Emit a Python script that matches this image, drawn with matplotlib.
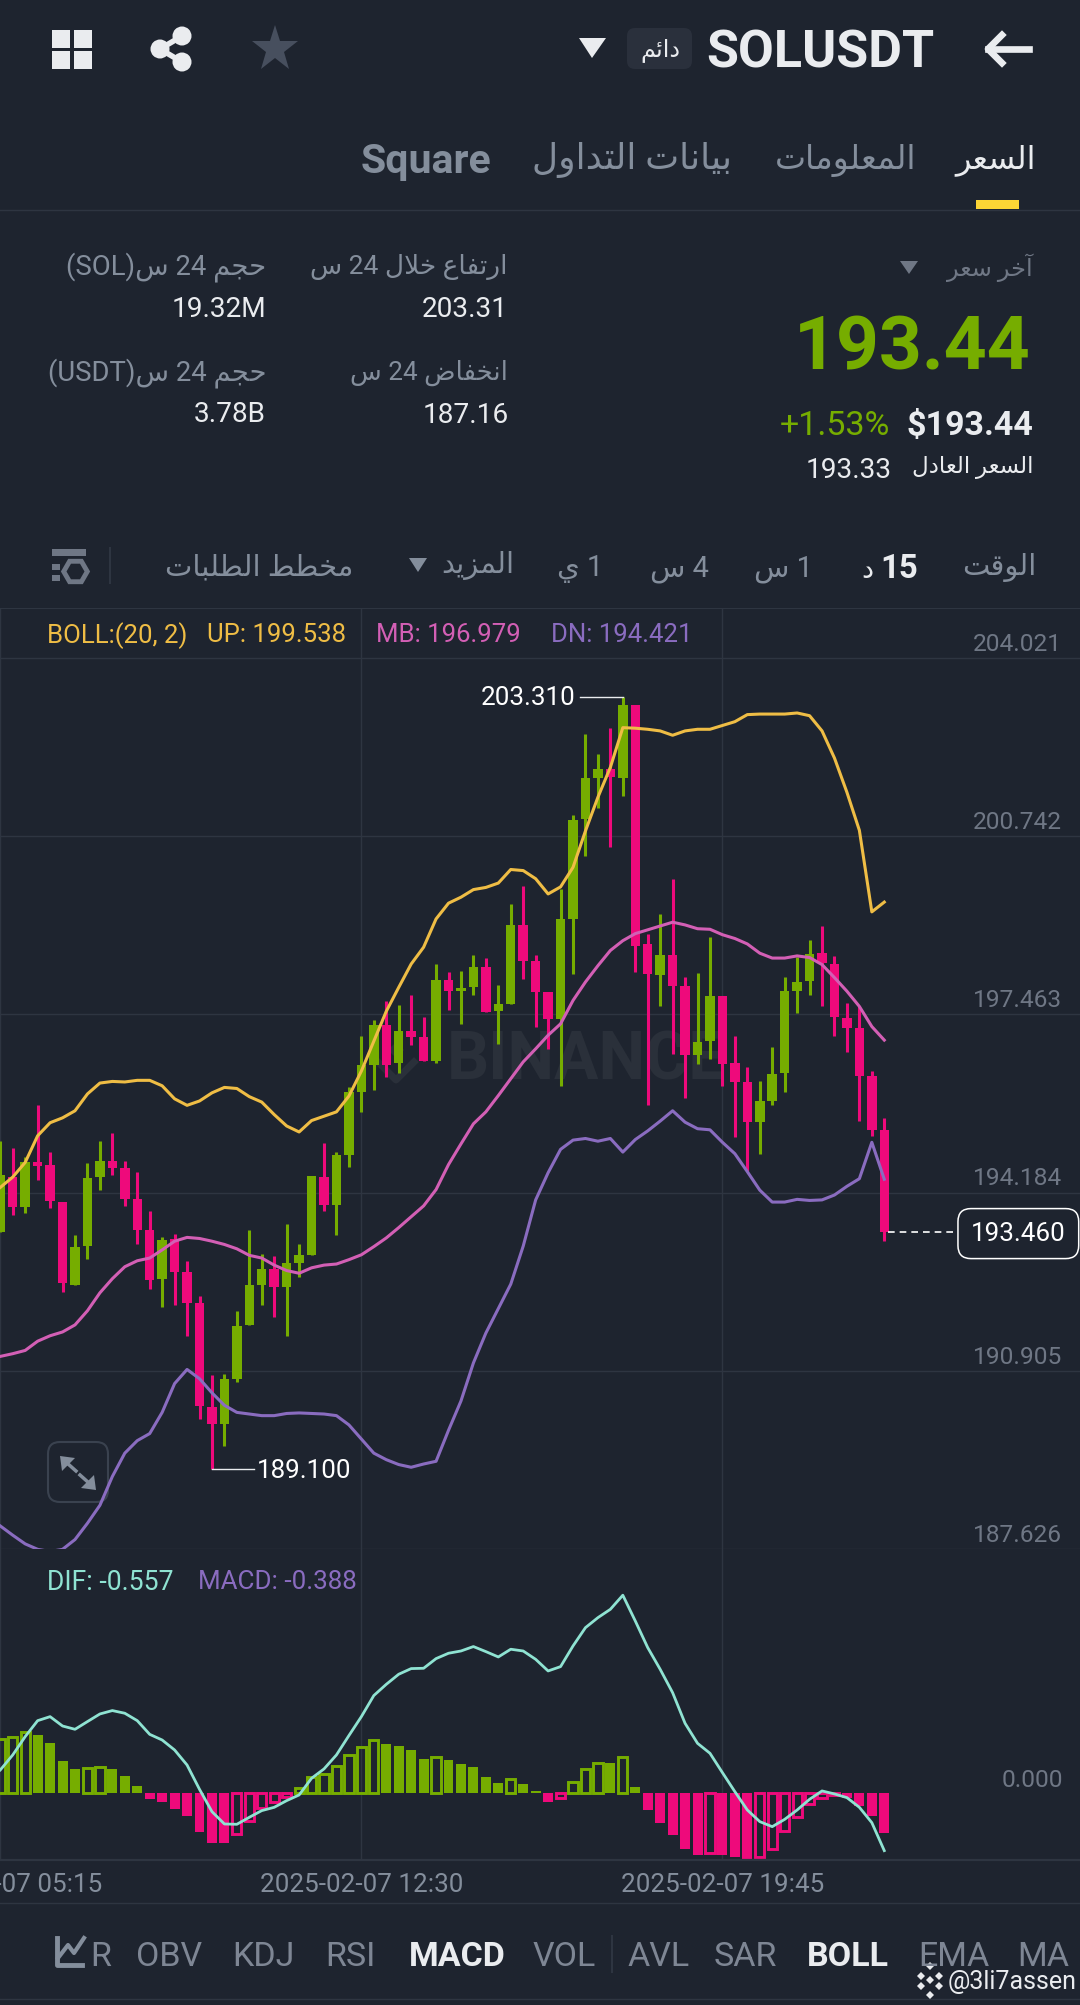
import unicodedata

import matplotlib
matplotlib.use('Agg')
import matplotlib.pyplot as plt
from matplotlib.patches import FancyBboxPatch, Polygon, Rectangle, Circle

# candle data
opens = [193.46, 194.47, 193.92, 194.75, 194.69, 194.01, 192.49, 193.21, 194.47, 194.76,
         194.64, 194.07, 193.49, 192.59, 193.33, 192.72, 192.16, 190.24, 189.92, 190.75,
         191.74, 192.49, 192.77, 192.44, 192.89, 193.03, 194.47, 193.95, 194.88, 196.04,
         196.53, 197.27, 196.56, 197.15, 197.04, 196.60, 198.09, 197.90, 197.96, 198.33,
         197.52, 197.66, 199.11, 198.45, 197.88, 197.37, 199.22, 201.05, 201.82, 201.97,
         201.82, 203.16, 198.75, 198.19, 198.56, 197.99, 196.71, 196.98, 197.81, 196.57,
         196.22, 195.48, 195.87, 196.38, 197.89, 198.07, 198.59, 198.40, 197.40, 197.21,
         196.33, 195.34]
closes = [194.51, 193.92, 194.75, 194.68, 194.03, 192.52, 193.19, 194.46, 194.76, 194.64,
          194.07, 193.49, 192.58, 193.31, 192.72, 192.16, 190.25, 189.92, 190.75, 191.73,
          192.49, 192.77, 192.44, 192.89, 193.03, 194.49, 193.95, 194.88, 196.04, 196.53,
          197.27, 196.54, 197.15, 197.04, 196.60, 198.10, 197.90, 197.95, 198.33, 197.50,
          197.66, 199.10, 198.45, 197.88, 197.37, 199.22, 201.04, 201.81, 201.97, 201.84,
          203.16, 198.73, 198.21, 198.56, 197.98, 196.71, 196.96, 197.81, 196.55, 196.22,
          195.48, 195.87, 196.36, 197.89, 198.06, 198.58, 198.41, 197.41, 197.21, 196.33,
          195.34, 193.46]
highs = [195.13, 195.01, 194.84, 195.80, 194.93, 194.01, 193.41, 194.72, 195.13, 195.28,
         194.77, 194.57, 193.84, 193.36, 193.42, 192.93, 192.29, 190.83, 190.85, 192.00,
         193.49, 193.05, 193.01, 193.60, 193.24, 194.49, 195.09, 194.93, 196.12, 197.07,
         197.36, 197.71, 197.64, 197.82, 197.42, 198.40, 198.24, 198.27, 198.56, 198.50,
         198.01, 199.50, 199.83, 198.55, 197.88, 199.77, 201.14, 202.62, 202.25, 202.73,
         203.31, 203.16, 198.95, 199.31, 199.95, 198.16, 198.22, 198.88, 197.81, 197.07,
         196.50, 196.24, 196.86, 198.15, 198.52, 198.83, 199.09, 198.54, 197.68, 197.61,
         196.43, 195.55]
lows = [193.46, 193.77, 193.80, 194.42, 193.90, 192.36, 192.49, 192.96, 194.23, 194.51,
        193.93, 193.23, 192.41, 192.08, 192.11, 191.54, 190.01, 189.10, 189.52, 190.70,
        191.74, 192.12, 191.89, 191.55, 192.64, 193.03, 193.85, 193.41, 194.66, 195.66,
        196.08, 196.31, 196.39, 196.90, 196.60, 196.56, 197.54, 197.29, 197.82, 197.50,
        196.92, 197.66, 198.12, 197.24, 196.83, 196.14, 198.20, 200.37, 201.27, 200.54,
        201.48, 198.24, 195.80, 197.62, 196.73, 195.92, 196.55, 196.64, 196.15, 195.20,
        194.58, 194.90, 195.80, 196.04, 197.49, 197.82, 197.62, 197.06, 196.78, 195.50,
        195.23, 193.30]

boll_up = [194.28, 194.47, 194.74, 195.23, 195.47, 195.56, 195.69, 196.00, 196.20, 196.23,
           196.22, 196.25, 196.25, 196.15, 195.91, 195.79, 195.87, 196.02, 196.12, 196.10,
           195.95, 195.85, 195.62, 195.41, 195.30, 195.51, 195.59, 195.67, 195.96, 196.42,
           196.97, 197.52, 197.96, 198.39, 198.70, 199.22, 199.51, 199.62, 199.76, 199.80,
           199.88, 200.13, 200.11, 199.96, 199.68, 199.81, 200.17, 200.84, 201.46, 202.01,
           202.74, 202.73, 202.71, 202.68, 202.60, 202.68, 202.71, 202.71, 202.78, 202.85,
           202.98, 202.99, 202.99, 202.99, 203.01, 202.96, 202.68, 202.18, 201.55, 200.85,
           199.35, 199.53]
boll_mb = [191.17, 191.22, 191.28, 191.45, 191.55, 191.62, 191.75, 192.01, 192.34, 192.60,
           192.82, 192.93, 192.98, 193.13, 193.29, 193.36, 193.34, 193.29, 193.23, 193.15,
           193.03, 192.98, 192.85, 192.75, 192.70, 192.80, 192.85, 192.87, 192.95, 193.04,
           193.19, 193.35, 193.54, 193.74, 193.94, 194.24, 194.70, 195.08, 195.45, 195.67,
           195.97, 196.28, 196.59, 196.83, 197.08, 197.29, 197.72, 198.06, 198.36, 198.64,
           198.82, 198.95, 199.02, 199.09, 199.16, 199.11, 199.04, 199.03, 198.93, 198.86,
           198.76, 198.59, 198.50, 198.50, 198.54, 198.51, 198.38, 198.14, 197.89, 197.61,
           197.24, 196.99]
boll_dn = [188.05, 187.88, 187.72, 187.62, 187.58, 187.62, 187.80, 188.10, 188.43, 188.96,
           189.39, 189.62, 189.75, 190.14, 190.67, 190.93, 190.76, 190.50, 190.27, 190.14,
           190.11, 190.08, 190.08, 190.12, 190.13, 190.12, 190.11, 190.08, 189.91, 189.65,
           189.39, 189.27, 189.18, 189.13, 189.19, 189.24, 189.81, 190.35, 191.05, 191.60,
           192.05, 192.50, 193.20, 194.05, 194.55, 194.98, 195.15, 195.18, 195.13, 195.18,
           194.93, 195.16, 195.32, 195.50, 195.69, 195.48, 195.36, 195.34, 195.11, 194.90,
           194.57, 194.23, 194.01, 194.01, 194.06, 194.04, 194.05, 194.14, 194.30, 194.44,
           195.11, 194.43]

macd_hist = [0.525, 0.544, 0.593, 0.567, 0.492, 0.318, 0.233, 0.246, 0.259, 0.233,
             0.165, 0.075, -0.055, -0.087, -0.152, -0.220, -0.379, -0.486, -0.486, -0.395,
             -0.269, -0.146, -0.087, -0.039, 0.049, 0.162, 0.185, 0.269, 0.373, 0.447,
             0.518, 0.480, 0.463, 0.421, 0.334, 0.356, 0.324, 0.282, 0.253, 0.159,
             0.097, 0.136, 0.091, 0.026, -0.084, -0.049, 0.113, 0.237, 0.298, 0.292,
             0.356, 0.065, -0.162, -0.285, -0.402, -0.544, -0.599, -0.577, -0.599, -0.616,
             -0.654, -0.622, -0.544, -0.366, -0.227, -0.107, -0.042, -0.016, -0.049, -0.123,
             -0.217, -0.389]
dif_line = [0.227, 0.373, 0.551, 0.706, 0.745, 0.654, 0.622, 0.697, 0.771, 0.804,
            0.778, 0.706, 0.573, 0.518, 0.421, 0.275, 0.039, -0.178, -0.298, -0.301,
            -0.233, -0.168, -0.136, -0.071, -0.016, 0.146, 0.237, 0.373, 0.561, 0.745,
            0.950, 1.059, 1.157, 1.212, 1.215, 1.309, 1.361, 1.383, 1.426, 1.377,
            1.325, 1.400, 1.383, 1.302, 1.189, 1.231, 1.432, 1.610, 1.707, 1.788,
            1.925, 1.675, 1.416, 1.205, 0.978, 0.680, 0.486, 0.389, 0.201, 0.016,
            -0.162, -0.275, -0.324, -0.253, -0.162, -0.058, 0.023, -0.006, -0.042, -0.136,
            -0.285, -0.557]

price_levels = [204.021, 200.742, 197.463, 194.184, 190.905, 187.626]
time_ticks = [0, 29, 58]
time_labels = ['2025-02-07 05:15', '2025-02-07 12:30', '2025-02-07 19:45']
last_price = 193.46
bottom_tabs = [('R', 90), ('OBV', 136), ('KDJ', 232), ('RSI', 325), ('MACD', 409), ('VOL', 533),
               ('AVL', 627), ('SAR', 714), ('BOLL', 807), ('EMA', 918), ('MA', 1017)]

BG = '#1e242f'
GRID = '#2e3541'
WHITE = '#eaecef'
GRAY = '#848e9c'
DIM = '#6f7785'
GREEN = '#76ad00'
PINK = '#ee0a7b'
YELLOW = '#efbd45'
MAGENTA = '#d35fb5'
PURPLE = '#8a6cc0'
CYAN = '#8fe3d2'

plt.rcParams['font.family'] = ['Roboto', 'DejaVu Sans']

NO_JOIN_AFTER = set('اأإآدذرزو\ufefb')


def is_arabic(ch):
    return ch is not None and (('\u0600' <= ch <= '\u06ff') or ch == '\ufefb')


def shape_word(word):
    # matplotlib has no arabic shaping, so pick the presentation forms here
    word = word.replace('لا', '\ufefb')
    shaped = []
    for k, ch in enumerate(word):
        prev_ch = word[k - 1] if k > 0 else None
        next_ch = word[k + 1] if k + 1 < len(word) else None
        if not is_arabic(ch):
            shaped.append(ch)
            continue
        to_prev = is_arabic(prev_ch) and prev_ch not in NO_JOIN_AFTER
        to_next = is_arabic(next_ch) and ch not in NO_JOIN_AFTER
        if ch == '\ufefb':
            shaped.append('\ufefc' if to_prev else ch)
            continue
        form = 'MEDIAL' if to_prev and to_next else 'FINAL' if to_prev else 'INITIAL' if to_next else 'ISOLATED'
        shaped.append(unicodedata.lookup(f'{unicodedata.name(ch)} {form} FORM'))
    return ''.join(shaped)


def rtl(text):
    # visual order: last word first, arabic words mirrored, numbers left alone
    out = []
    for tok in reversed(text.split(' ')):
        out.append(shape_word(tok)[::-1] if any(is_arabic(c) for c in tok) else tok)
    return ' '.join(out)


fig = plt.figure(figsize=(10.8, 20.05), dpi=100, facecolor=BG)

# full page layer in pixel coordinates for the app screen around the chart
ui = fig.add_axes([0, 0, 1, 1])
ui.set_xlim(0, 1080)
ui.set_ylim(2005, 0)
ui.axis('off')


def put(x, y, s, size, color=WHITE, ha='left', weight='normal'):
    ui.text(x, y, s, fontsize=size * 0.72, color=color, ha=ha, va='center', fontweight=weight)


# header icons
for bx, by in [(52, 30), (74, 30), (52, 51), (74, 51)]:
    ui.add_patch(Rectangle((bx, by), 18, 18, color=WHITE, lw=0))
ui.plot([182, 160, 182], [36, 49, 62], color=WHITE, lw=4)
for cx, cy in [(160, 49), (182, 36), (182, 62)]:
    ui.add_patch(Circle((cx, cy), 9.5, color=WHITE, lw=0))
ui.plot(275, 49, marker='*', ms=35, color='#474f5e', mew=0)
ui.add_patch(Polygon([(579, 38), (606, 38), (592, 58)], color=WHITE, lw=0))
ui.add_patch(FancyBboxPatch((631, 32), 57, 33, boxstyle='round,pad=4,rounding_size=8', color='#2a303c', lw=0))
put(660, 50, rtl('دائم'), 24, WHITE, 'center')
put(706, 53, 'SOLUSDT', 52, WHITE, weight='bold')
ui.plot([1002, 988, 1002], [35, 49, 63], color=WHITE, lw=4.8)
ui.plot([988, 1029], [49, 49], color=WHITE, lw=4.8)

# tabs
put(1036, 160, rtl('السعر'), 32, WHITE, 'right')
put(916, 160, rtl('المعلومات'), 33, GRAY, 'right')
put(732, 160, rtl('بيانات التداول'), 36, GRAY, 'right')
put(361, 162, 'Square', 41, GRAY, weight='bold')
ui.add_patch(Rectangle((976, 200), 43, 9, color='#fcd535', lw=0))
ui.plot([0, 1080], [210, 210], color=GRID, lw=1)

# price block
put(1033, 268, rtl('آخر سعر'), 24, DIM, 'right')
ui.add_patch(Polygon([(900, 261), (918, 261), (909, 274)], color=DIM, lw=0))
put(1031, 349, '193.44', 75, GREEN, 'right', 'bold')
put(780, 426, '+1.53%', 34, GREEN)
put(1033, 426, '$193.44', 34, WHITE, 'right', 'bold')
put(1033, 467, rtl('السعر العادل'), 23, WHITE, 'right')
put(806, 470, '193.33', 28, WHITE)

# 24h stats
put(508, 267, rtl('ارتفاع خلال 24 س'), 26.4, GRAY, 'right')
put(508, 309, '203.31', 28, WHITE, 'right')
put(508, 373, rtl('انخفاض 24 س'), 26, GRAY, 'right')
put(509, 415, '187.16', 28, WHITE, 'right')
put(266, 267, '(SOL)' + rtl('حجم 24 س'), 27.5, GRAY, 'right')
put(266, 309, '19.32M', 28, WHITE, 'right')
put(266, 373, '(USDT)' + rtl('حجم 24 س'), 27.5, GRAY, 'right')
put(266, 414, '3.78B', 28, WHITE, 'right')

# interval row
put(1036, 567, rtl('الوقت'), 29, GRAY, 'right')
put(918, 569, '15', 33, WHITE, 'right', 'bold')
put(873, 571, rtl('د'), 27, WHITE, 'right')
put(813, 569, rtl('1 س'), 29, GRAY, 'right')
put(709, 569, rtl('4 س'), 29, GRAY, 'right')
put(603, 569, rtl('1 ي'), 29, GRAY, 'right')
put(514, 566, rtl('المزيد'), 29, GRAY, 'right')
ui.add_patch(Polygon([(409, 558), (427, 558), (418, 572)], color=GRAY, lw=0))
put(353, 567, rtl('مخطط الطلبات'), 29, GRAY, 'right')
ui.plot([110, 110], [548, 583], color=GRID, lw=1.5)
ui.add_patch(Rectangle((52, 549), 34, 7, color=DIM, lw=0))
ui.add_patch(Rectangle((52, 564), 8, 6, color=DIM, lw=0))
ui.add_patch(Rectangle((52, 575), 8, 6, color=DIM, lw=0))
ui.plot(75, 571, marker='H', ms=17, mfc='none', mec=DIM, mew=3.5)

# faint watermark behind the candles
ui.text(447, 1061, 'BINANCE', fontsize=66 * 0.72, color='#2a303a', fontweight='bold', va='center')
ui.plot([378, 396, 414], [1062, 1080, 1062], color='#2a303a', lw=5)
ui.plot(396, 1050, marker='D', ms=8, color='#2a303a', mew=0)

# expand button
ui.add_patch(FancyBboxPatch((56, 1450), 44, 44, boxstyle='round,pad=8,rounding_size=12', fc='none', ec='#3a424f', lw=1.5))
ui.add_patch(Polygon([(60, 1456), (75, 1458), (62, 1471)], color=GRAY, lw=0))
ui.add_patch(Polygon([(96, 1490), (81, 1488), (94, 1475)], color=GRAY, lw=0))
ui.plot([67, 76], [1463, 1471], color=GRAY, lw=2.5)
ui.plot([89, 80], [1483, 1475], color=GRAY, lw=2.5)

# bottom indicator tabs
ui.plot([57, 57, 82], [1938, 1965, 1965], color=GRAY, lw=3.5)
ui.plot([58, 68, 74, 84], [1958, 1945, 1953, 1938], color=GRAY, lw=3)
for name, tx in bottom_tabs:
    active = name in ('MACD', 'BOLL')
    put(tx, 1957, name, 34, WHITE if active else '#7e8694', weight='bold' if active else 'normal')
ui.plot([612, 612], [1936, 1972], color=GRID, lw=1.5)
ui.plot([0, 1080], [1903, 1903], color=GRID, lw=1)
ui.plot([0, 1080], [1999, 1999], color=GRID, lw=1)
for mx, my in [(930, 1966), (921, 1976), (939, 1976), (930, 1980), (921, 1986), (939, 1986), (930, 1995)]:
    ui.plot(mx, my, marker='D', ms=4.5, color=WHITE, mew=0)
put(948, 1982, '@3li7assen', 25, WHITE)

# candle panel
ax = fig.add_axes([0, 1 - 1549 / 2005, 1, (1549 - 608) / 2005], facecolor='none')
ax.set_xlim(-0.024, 86.72)
ax.set_ylim(187.626, 204.021 + 50 / 54.3)
ax.set_yticks(price_levels)
ax.set_xticks(time_ticks)
ax.grid(color=GRID, lw=1)
ax.set_axisbelow(True)
ax.tick_params(length=0, labelleft=False, labelbottom=False)
for side in ('left', 'right', 'bottom'):
    ax.spines[side].set_visible(False)
ax.spines['top'].set_color(GRID)

xs = list(range(len(opens)))
colors = [GREEN if c > o else PINK for o, c in zip(opens, closes)]
ax.vlines(xs, lows, highs, colors=colors, lw=2.2)
ax.bar(xs, [abs(c - o) for o, c in zip(opens, closes)], bottom=[min(o, c) for o, c in zip(opens, closes)],
       width=0.76, color=colors, lw=0)

ax.plot(xs, boll_up, color=YELLOW, lw=2.2)
ax.plot(xs, boll_mb, color=MAGENTA, lw=2.2)
ax.plot(xs, boll_dn, color=PURPLE, lw=2.2)

for value in price_levels:
    ax.text(1062 / 1080, value + 0.04, f'{value:.3f}', transform=ax.get_yaxis_transform(), ha='right', va='bottom',
            fontsize=24.5 * 0.72, color=DIM)

ax.text(47 / 12.45, 204.44, 'BOLL:(20, 2)', fontsize=25.7 * 0.72, color=YELLOW, va='center')
ax.text(207 / 12.45, 204.44, 'UP: 199.538', fontsize=25.7 * 0.72, color=YELLOW, va='center')
ax.text(376 / 12.45, 204.44, 'MB: 196.979', fontsize=25.7 * 0.72, color=MAGENTA, va='center')
ax.text(551 / 12.45, 204.44, 'DN: 194.421', fontsize=25.7 * 0.72, color=PURPLE, va='center')

# high, low and last price callouts
ax.plot([46.6, 50], [203.31, 203.31], color=WHITE, lw=1)
ax.text(46.2, 203.28, '203.310', fontsize=26 * 0.72, color='white', ha='right', va='center')
ax.plot([17, 20.4], [189.10, 189.10], color=WHITE, lw=1)
ax.text(20.6, 189.07, '189.100', fontsize=26 * 0.72, color='white', ha='left', va='center')
ax.plot([71.3, 76.5], [last_price, last_price], color='white', lw=1.2, ls=(0, (4, 3)))
ax.text(1018 / 12.45, last_price - 0.03, f'{last_price:.3f}', fontsize=26 * 0.72, color='white', ha='center', va='center',
        bbox=dict(boxstyle='round,pad=0.5,rounding_size=0.5', fc=BG, ec='white', lw=1.1), clip_on=False)

# macd panel
ax2 = fig.add_axes([0, 1 - 1860 / 2005, 1, (1860 - 1549) / 2005], facecolor='none')
ax2.set_xlim(-0.024, 86.72)
ax2.set_ylim(-0.648, 2.374)
ax2.set_xticks(time_ticks)
ax2.set_xticklabels(time_labels)
ax2.set_yticks([])
ax2.grid(axis='x', color=GRID, lw=1)
ax2.set_axisbelow(True)
ax2.tick_params(axis='x', length=0, pad=9.5, labelsize=26 * 0.72, labelcolor=GRAY)
for side in ('left', 'right', 'top'):
    ax2.spines[side].set_visible(False)
ax2.spines['bottom'].set_color(GRID)
ax2.spines['bottom'].set_linewidth(1.6)

for i, value in enumerate(macd_hist):
    col = GREEN if value >= 0 else PINK
    rising = i == 0 or value > macd_hist[i - 1]
    if rising:
        ax2.bar(i, value, width=0.74, facecolor='none', edgecolor=col, lw=2.1)
    else:
        ax2.bar(i, value, width=0.8, color=col, lw=0)
ax2.plot(xs, dif_line, color=CYAN, lw=2)

ax2.text(47 / 12.45, 2.05, 'DIF: -0.557', fontsize=26.5 * 0.72, color=CYAN, va='center')
ax2.text(198 / 12.45, 2.05, 'MACD: -0.388', fontsize=26 * 0.72, color=PURPLE, va='center')
ax2.text(1063 / 1080, 0.12, '0.000', transform=ax2.get_yaxis_transform(), ha='right', va='center',
         fontsize=24.5 * 0.72, color=DIM)

fig.savefig('out.png', dpi=100, facecolor=BG)
